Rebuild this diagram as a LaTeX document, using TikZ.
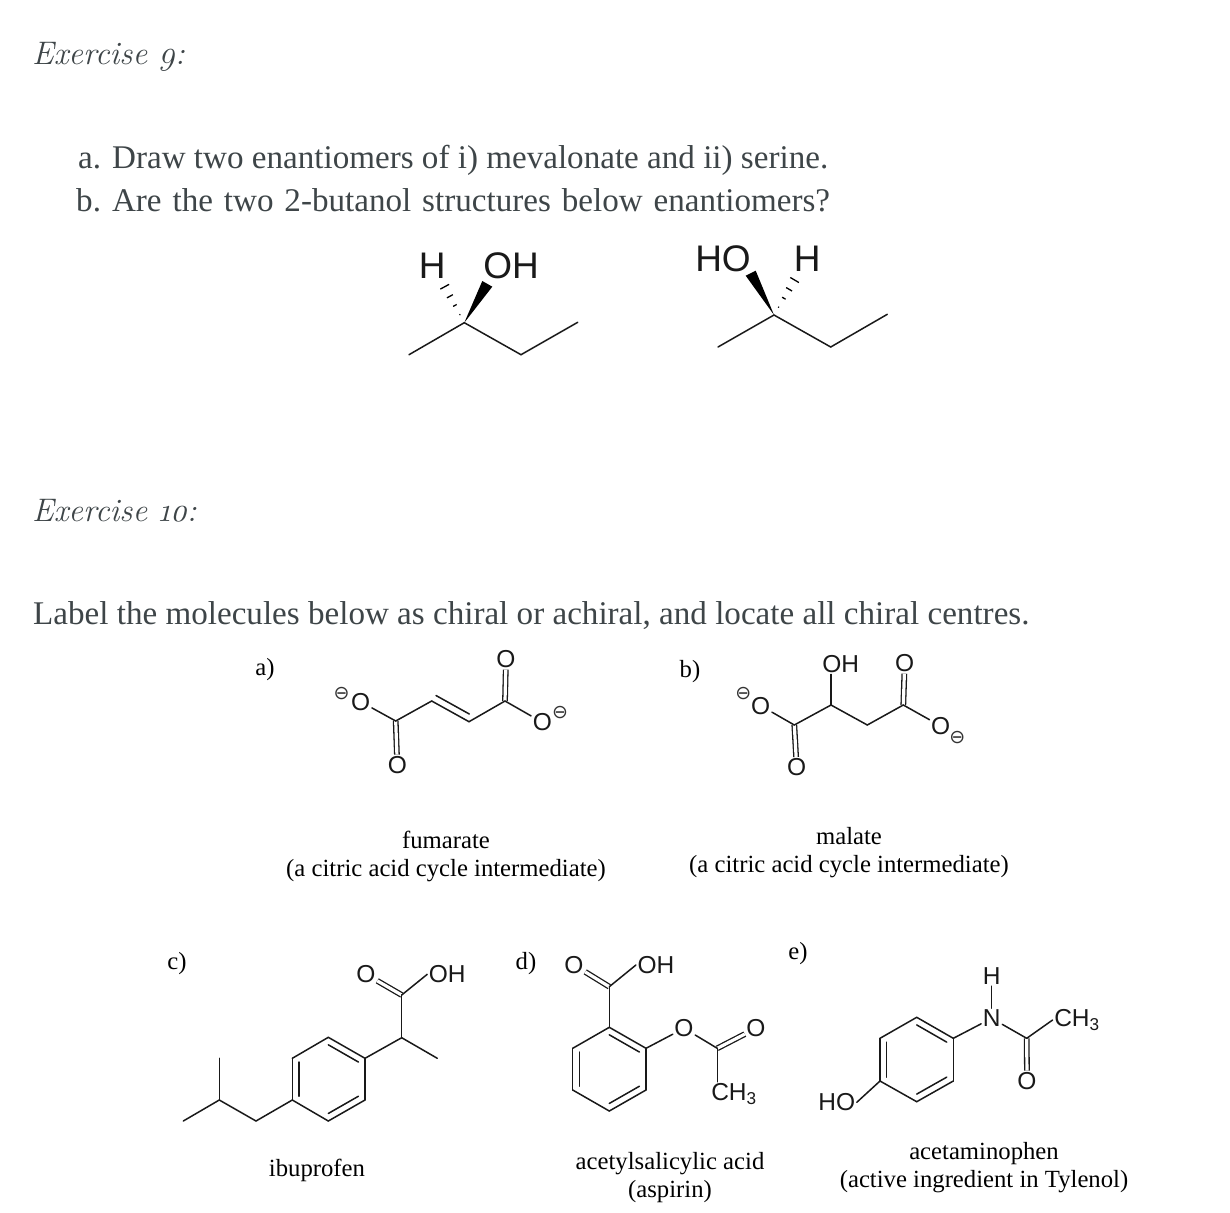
\documentclass[tikz,border=0pt]{standalone}
\usepackage{fontspec}
\setmainfont{Liberation Serif}
\newfontfamily\atomfont{Liberation Sans}
\newfontfamily\signfont{DejaVu Sans}
\newfontfamily\headfont{Latin Modern Roman}[Numbers=OldStyle]
\usetikzlibrary{calc}
\definecolor{textgrey}{HTML}{3E4548}
\begin{document}
\begin{tikzpicture}[x=1pt,y=-1pt,
                bond_style/.style={draw=black!90,line width=1.5pt,line cap=round},
                dbl_style/.style={draw=black!90,line width=1.3pt,double,double distance=3.2pt},
                atom_style/.style={font=\atomfont\fontsize{24.5}{24.5}\selectfont,text=black!90,inner sep=1.5pt},
                big_atom_style/.style={font=\atomfont\fontsize{37}{37}\selectfont,text=black!90,inner sep=2pt},
                sign_style/.style={font=\signfont\fontsize{19}{19}\selectfont,text=black!80,inner sep=0pt},
                head_style/.style={font=\headfont\itshape\fontsize{32.6}{32.6}\selectfont,text=textgrey,anchor=base west,inner sep=0pt},
                body_style/.style={font=\fontsize{33.1}{33.1}\selectfont,text=textgrey,anchor=base west,inner sep=0pt},
                caption_style/.style={font=\fontsize{24.7}{28}\selectfont,align=center,inner sep=0pt}]
                \useasboundingbox (0,0) rectangle (1230,1212);
                % page text
                \node[head_style] (ex9) at (32,65) {Exercise 9:};
                \node[body_style] (qa) at (78,168) {a. Draw two enantiomers of i) mevalonate and ii) serine.};
                \node[body_style] (qb) at (76,211) {b. \hbox to 718pt{Are the two 2-butanol structures below enantiomers?}};
                \node[head_style] (ex10) at (32,521) {Exercise 10:};
                \node[body_style] (qc) at (33,624) {Label the molecules below as chiral or achiral, and locate all chiral centres.};
                \node[caption_style] (la) at (265,670) {a)};
                \node[caption_style] (lb) at (690,672) {b)};
                \node[caption_style] (lc) at (177,964) {c)};
                \node[caption_style] (ld) at (526,964) {d)};
                \node[caption_style] (le) at (798,954) {e)};
                \node[caption_style] (capa) at (446,856) {fumarate\\(a citric acid cycle intermediate)};
                \node[caption_style] (capb) at (849,853) {malate\\(a citric acid cycle intermediate)};
                \node[caption_style] (capc) at (317,1170) {ibuprofen};
                \node[caption_style] (capd) at (670,1178) {acetylsalicylic acid\\(aspirin)};
                \node[caption_style] (cape) at (984,1168) {acetaminophen\\(active ingredient in Tylenol)};
                % 2-butanol, left
                \coordinate (l1) at (409,354.7);
                \coordinate (l2) at (464.3,322.7);
                \coordinate (l3) at (521,354.7);
                \coordinate (l4) at (577.7,322.3);
                \coordinate (lw1) at (482.3,281);
                \coordinate (lw2) at (492.3,286.7);
                \coordinate (lh) at (444.3,286);
                \node[big_atom_style] (lhh) at (432.3,266) {H};
                \node[big_atom_style] (loh) at (511,266) {OH};
                \draw[bond_style] (l1) edge (l2);
                \draw[bond_style] (l2) edge (l3);
                \draw[bond_style] (l3) edge (l4);
                \fill[black] (l2) -- (lw1) -- (lw2) -- cycle;
                \foreach \t/\w in {.22/.5,.47/2,.72/3.4,.98/5}
                    \draw[line width=1.3pt] ($(l2)!\t!(lh)!\w pt!90:(lh)$) -- ($(l2)!\t!(lh)!\w pt!-90:(lh)$);
                % 2-butanol, right
                \coordinate (m1) at (718,347);
                \coordinate (m2) at (774,315);
                \coordinate (m3) at (830.7,347);
                \coordinate (m4) at (887.3,314.3);
                \coordinate (mw1) at (745.7,275.7);
                \coordinate (mw2) at (755.7,270.7);
                \coordinate (mh) at (795,279.3);
                \node[big_atom_style] (mho) at (723,258.3) {HO};
                \node[big_atom_style] (mhh) at (807.3,258.3) {H};
                \draw[bond_style] (m1) edge (m2);
                \draw[bond_style] (m2) edge (m3);
                \draw[bond_style] (m3) edge (m4);
                \fill[black] (m2) -- (mw1) -- (mw2) -- cycle;
                \foreach \t/\w in {.22/.5,.47/2,.72/3.4,.98/5}
                    \draw[line width=1.3pt] ($(m2)!\t!(mh)!\w pt!90:(mh)$) -- ($(m2)!\t!(mh)!\w pt!-90:(mh)$);
                % fumarate
                \coordinate (f1) at (395.7,721);
                \coordinate (f2) at (431.7,701);
                \coordinate (f3) at (469,721.7);
                \coordinate (f4) at (505,701);
                \coordinate (f5) at (436,695.5);
                \coordinate (f6) at (469.3,714);
                \node[atom_style] (fo1) at (360.7,701.7) {O};
                \node[atom_style] (fo2) at (397.3,765) {O};
                \node[atom_style] (fo3) at (506,659.3) {O};
                \node[atom_style] (fo4) at (542.3,722.3) {O};
                \node[sign_style] (fs1) at (341.7,693.3) {⊖};
                \node[sign_style] (fs2) at (560,712.7) {⊖};
                \draw[dbl_style] (f1) -- (fo2);
                \draw[dbl_style] (f4) -- (fo3);
                \draw[bond_style] (fo1) edge (f1);
                \draw[bond_style] (f1) edge (f2);
                \draw[bond_style] (f2) edge (f3);
                \draw[bond_style] (f5) edge (f6);
                \draw[bond_style] (f3) edge (f4);
                \draw[bond_style] (f4) edge (fo4);
                % malate
                \coordinate (g1) at (794.3,725);
                \coordinate (g2) at (831,705);
                \coordinate (g3) at (867.3,725);
                \coordinate (g4) at (903.3,705);
                \node[atom_style] (go1) at (760.7,705.7) {O};
                \node[atom_style] (go2) at (796.7,767.3) {O};
                \node[atom_style] (goh) at (840.7,664) {OH};
                \node[atom_style] (go3) at (904.7,663.3) {O};
                \node[atom_style] (go4) at (940.7,726) {O};
                \node[sign_style] (gs1) at (743.3,693.3) {⊖};
                \node[sign_style] (gs2) at (957.3,737.3) {⊖};
                \draw[dbl_style] (g1) -- (go2);
                \draw[dbl_style] (g4) -- (go3);
                \draw[bond_style] (go1) edge (g1);
                \draw[bond_style] (g1) edge (g2);
                \draw[bond_style] (g2) edge (g3);
                \draw[bond_style] (g3) edge (g4);
                \draw[bond_style] (g4) edge (go4);
                \draw[bond_style] (g2) edge (goh.south -| g2);
                % ibuprofen
                \coordinate (r1) at (328.3,1037.3);
                \coordinate (r2) at (365,1058.3);
                \coordinate (r3) at (365,1100);
                \coordinate (r4) at (328.3,1121);
                \coordinate (r5) at (292.3,1100);
                \coordinate (r6) at (292.3,1058.3);
                \coordinate (rc) at (328.5,1079);
                \coordinate (i1) at (401.7,1037.7);
                \coordinate (i2) at (437.3,1058.3);
                \coordinate (i3) at (401.7,995);
                \coordinate (i4) at (256,1121);
                \coordinate (i5) at (219.3,1100);
                \coordinate (i6) at (219.3,1058.3);
                \coordinate (i7) at (183.3,1121);
                \node[atom_style] (io) at (366,974.3) {O};
                \node[atom_style] (ioh) at (447.3,974.3) {OH};
                \draw[dbl_style] (i3) -- (io);
                \draw[bond_style] (r1) edge (r2);
                \draw[bond_style] (r2) edge (r3);
                \draw[bond_style] (r3) edge (r4);
                \draw[bond_style] (r4) edge (r5);
                \draw[bond_style] (r5) edge (r6);
                \draw[bond_style] (r6) edge (r1);
                \foreach \p/\q in {r1/r2,r3/r4,r5/r6}
                    \draw[bond_style] ($(\p)!.18!(rc)$) -- ($(\q)!.18!(rc)$);
                \draw[bond_style] (r2) edge (i1);
                \draw[bond_style] (i1) edge (i2);
                \draw[bond_style] (i1) edge (i3);
                \draw[bond_style] (i3) edge (ioh.west);
                \draw[bond_style] (r5) edge (i4);
                \draw[bond_style] (i4) edge (i5);
                \draw[bond_style] (i5) edge (i6);
                \draw[bond_style] (i5) edge (i7);
                % aspirin
                \coordinate (s1) at (609.3,1027.3);
                \coordinate (s2) at (646,1048.3);
                \coordinate (s3) at (646,1090);
                \coordinate (s4) at (609.3,1111);
                \coordinate (s5) at (572.7,1090);
                \coordinate (s6) at (572.7,1048.3);
                \coordinate (sc) at (609.3,1069);
                \coordinate (a1) at (609.3,986.7);
                \coordinate (a2) at (717.3,1048.3);
                \node[atom_style] (ao1) at (574,965) {O};
                \node[atom_style] (aoh) at (656,965) {OH};
                \node[atom_style] (ao2) at (684,1028.3) {O};
                \node[atom_style] (ao3) at (756,1028.3) {O};
                \node[atom_style] (ach) at (734,1094) {CH\textsubscript{3}};
                \draw[dbl_style] (a1) -- (ao1);
                \draw[dbl_style] (a2) -- (ao3);
                \draw[bond_style] (s1) edge (s2);
                \draw[bond_style] (s2) edge (s3);
                \draw[bond_style] (s3) edge (s4);
                \draw[bond_style] (s4) edge (s5);
                \draw[bond_style] (s5) edge (s6);
                \draw[bond_style] (s6) edge (s1);
                \foreach \p/\q in {s1/s2,s3/s4,s5/s6}
                    \draw[bond_style] ($(\p)!.18!(sc)$) -- ($(\q)!.18!(sc)$);
                \draw[bond_style] (s1) edge (a1);
                \draw[bond_style] (a1) edge (aoh.west);
                \draw[bond_style] (s2) edge (ao2);
                \draw[bond_style] (ao2) edge (a2);
                \draw[bond_style] (a2) edge (ach.north -| a2);
                % acetaminophen
                \coordinate (t1) at (916.7,1017.3);
                \coordinate (t2) at (953.3,1038.3);
                \coordinate (t3) at (953.3,1081);
                \coordinate (t4) at (916.7,1101.7);
                \coordinate (t5) at (880,1081);
                \coordinate (t6) at (880,1038.3);
                \coordinate (tc) at (916.7,1059.5);
                \coordinate (b1) at (1026.7,1038.3);
                \node[atom_style] (bh) at (991.7,976) {H};
                \node[atom_style] (bn) at (991.7,1018.3) {N};
                \node[atom_style] (bch) at (1077,1020) {CH\textsubscript{3}};
                \node[atom_style] (bo) at (1027,1081) {O};
                \node[atom_style] (bho) at (836.7,1102.3) {HO};
                \draw[dbl_style] (b1) -- (bo);
                \draw[bond_style] (t1) edge (t2);
                \draw[bond_style] (t2) edge (t3);
                \draw[bond_style] (t3) edge (t4);
                \draw[bond_style] (t4) edge (t5);
                \draw[bond_style] (t5) edge (t6);
                \draw[bond_style] (t6) edge (t1);
                \foreach \p/\q in {t1/t2,t3/t4,t5/t6}
                    \draw[bond_style] ($(\p)!.18!(tc)$) -- ($(\q)!.18!(tc)$);
                \draw[bond_style] (t2) edge (bn);
                \draw[bond_style] (bn) edge (bh);
                \draw[bond_style] (bn) edge (b1);
                \draw[bond_style] (b1) edge (bch.west);
                \draw[bond_style] (t5) edge (bho.east);
            \end{tikzpicture}
\end{document}
